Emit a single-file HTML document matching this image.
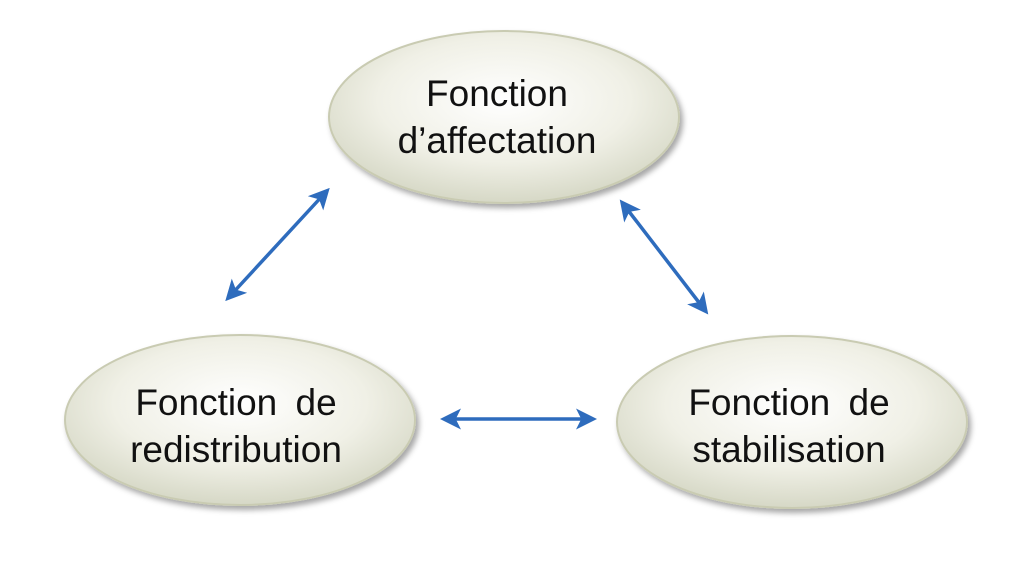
<!DOCTYPE html>
<html><head><style>
body{margin:0;background:#fff;}
svg{display:block;}
text{font-family:"Liberation Sans",sans-serif;font-size:37px;fill:#111;text-anchor:middle;}
</style></head><body>
<svg width="1024" height="579" viewBox="0 0 1024 579">
<defs>
<radialGradient id="g" cx="50%" cy="40%" r="60%">
<stop offset="0" stop-color="#ffffff"/>
<stop offset="0.6" stop-color="#f0f0e6"/>
<stop offset="1" stop-color="#d6d8c6"/>
</radialGradient>
<filter id="s" x="-10%" y="-10%" width="130%" height="130%">
<feDropShadow dx="3" dy="4" stdDeviation="3" flood-color="#000" flood-opacity="0.35"/>
</filter>
<marker id="a" markerWidth="6" markerHeight="6" refX="4" refY="3" orient="auto-start-reverse" markerUnits="strokeWidth">
<path d="M0,0 L6,3 L0,6 L1.5,3 Z" fill="#2e6cbd"/>
</marker>
</defs>
<g stroke="#c9cbb2" stroke-width="2" fill="url(#g)" filter="url(#s)">
<ellipse cx="504" cy="117" rx="175" ry="86"/>
<ellipse cx="240" cy="420" rx="175" ry="85"/>
<ellipse cx="792" cy="422" rx="175" ry="86"/>
</g>
<text x="497" y="106">Fonction</text>
<text x="497" y="153">d’affectation</text>
<text x="236" y="415" word-spacing="8">Fonction de</text>
<text x="236" y="462">redistribution</text>
<text x="789" y="415" word-spacing="8">Fonction de</text>
<text x="789" y="462">stabilisation</text>
<g stroke="#2e6cbd" stroke-width="3.5" marker-start="url(#a)" marker-end="url(#a)">
<line x1="230" y1="296" x2="325" y2="193"/>
<line x1="624" y1="205" x2="704" y2="309"/>
<line x1="447" y1="419" x2="590" y2="419"/>
</g>
</svg>
</body></html>
